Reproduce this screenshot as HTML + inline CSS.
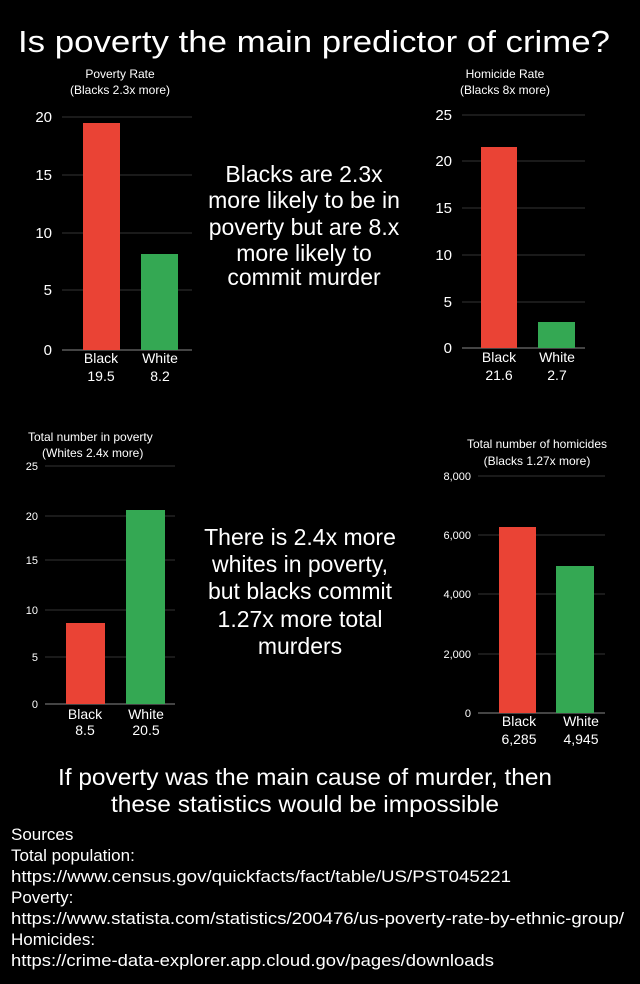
<!DOCTYPE html>
<html><head><meta charset="utf-8"><style>html,body{margin:0;padding:0;background:#000}svg{display:block}</style></head>
<body>
<svg width="640" height="984" viewBox="0 0 640 984" xmlns="http://www.w3.org/2000/svg" font-family="Liberation Sans, Arial, sans-serif" fill="#fff">
<rect width="640" height="984" fill="#000"/>
<text x="18" y="52" font-size="31" textLength="592" lengthAdjust="spacingAndGlyphs">Is poverty the main predictor of crime?</text>

<!-- Chart 1 -->
<g font-size="12" text-anchor="middle"><text x="120" y="78">Poverty Rate</text><text x="120" y="94">(Blacks 2.3x more)</text></g>
<g stroke="#333" stroke-width="1"><line x1="62" y1="117" x2="192" y2="117"/><line x1="62" y1="175" x2="192" y2="175"/><line x1="62" y1="233" x2="192" y2="233"/><line x1="62" y1="290" x2="192" y2="290"/></g>
<line x1="62" y1="350" x2="192" y2="350" stroke="#888"/>
<g font-size="15" text-anchor="end"><text x="52" y="122">20</text><text x="52" y="180">15</text><text x="52" y="238">10</text><text x="52" y="295">5</text><text x="52" y="355">0</text></g>
<rect x="83" y="123" width="37" height="227" fill="#ea4335"/>
<rect x="141" y="254" width="37" height="96" fill="#34a853"/>
<g font-size="14" text-anchor="middle"><text x="101" y="363">Black</text><text x="101" y="381">19.5</text><text x="160" y="363">White</text><text x="160" y="381">8.2</text></g>

<g font-size="23" text-anchor="middle"><text x="304" y="182">Blacks are 2.3x</text><text x="304" y="208">more likely to be in</text><text x="304" y="235">poverty but are 8.x</text><text x="304" y="261">more likely to</text><text x="304" y="285">commit murder</text></g>

<!-- Chart 2 -->
<g font-size="12" text-anchor="middle"><text x="505" y="78">Homicide Rate</text><text x="505" y="94">(Blacks 8x more)</text></g>
<g stroke="#333"><line x1="462" y1="115" x2="585" y2="115"/><line x1="462" y1="161" x2="585" y2="161"/><line x1="462" y1="208" x2="585" y2="208"/><line x1="462" y1="255" x2="585" y2="255"/><line x1="462" y1="302" x2="585" y2="302"/></g>
<line x1="462" y1="348" x2="585" y2="348" stroke="#888"/>
<g font-size="15" text-anchor="end"><text x="452" y="120">25</text><text x="452" y="166">20</text><text x="452" y="213">15</text><text x="452" y="260">10</text><text x="452" y="307">5</text><text x="452" y="353">0</text></g>
<rect x="481" y="147" width="36" height="201" fill="#ea4335"/>
<rect x="538" y="322" width="37" height="26" fill="#34a853"/>
<g font-size="14" text-anchor="middle"><text x="499" y="362">Black</text><text x="499" y="380">21.6</text><text x="557" y="362">White</text><text x="557" y="380">2.7</text></g>

<!-- Chart 3 -->
<g font-size="12"><text x="28" y="441">Total number in poverty</text><text x="42" y="457">(Whites 2.4x more)</text></g>
<g stroke="#333"><line x1="45" y1="466" x2="175" y2="466"/><line x1="45" y1="516" x2="175" y2="516"/><line x1="45" y1="560" x2="175" y2="560"/><line x1="45" y1="610" x2="175" y2="610"/><line x1="45" y1="657" x2="175" y2="657"/></g>
<line x1="45" y1="704" x2="175" y2="704" stroke="#888"/>
<g font-size="11" text-anchor="end"><text x="38" y="470">25</text><text x="38" y="520">20</text><text x="38" y="564">15</text><text x="38" y="614">10</text><text x="38" y="661">5</text><text x="38" y="708">0</text></g>
<rect x="66" y="623" width="39" height="81" fill="#ea4335"/>
<rect x="126" y="510" width="39" height="194" fill="#34a853"/>
<g font-size="14" text-anchor="middle"><text x="85" y="719">Black</text><text x="85" y="735">8.5</text><text x="146" y="719">White</text><text x="146" y="735">20.5</text></g>

<g font-size="23" text-anchor="middle"><text x="300" y="545">There is 2.4x more</text><text x="300" y="572">whites in poverty,</text><text x="300" y="599">but blacks commit</text><text x="300" y="627">1.27x more total</text><text x="300" y="654">murders</text></g>

<!-- Chart 4 -->
<g font-size="12" text-anchor="middle"><text x="537" y="448">Total number of homicides</text><text x="537" y="465">(Blacks 1.27x more)</text></g>
<g stroke="#333"><line x1="478" y1="476" x2="605" y2="476"/><line x1="478" y1="535" x2="605" y2="535"/><line x1="478" y1="594" x2="605" y2="594"/><line x1="478" y1="654" x2="605" y2="654"/></g>
<line x1="478" y1="713" x2="605" y2="713" stroke="#888"/>
<g font-size="11" text-anchor="end"><text x="471" y="480">8,000</text><text x="471" y="539">6,000</text><text x="471" y="598">4,000</text><text x="471" y="658">2,000</text><text x="471" y="717">0</text></g>
<rect x="499" y="527" width="37" height="186" fill="#ea4335"/>
<rect x="556" y="566" width="38" height="147" fill="#34a853"/>
<g font-size="14" text-anchor="middle"><text x="519" y="726">Black</text><text x="519" y="744">6,285</text><text x="581" y="726">White</text><text x="581" y="744">4,945</text></g>

<g font-size="23"><text x="58" y="785" textLength="494" lengthAdjust="spacingAndGlyphs">If poverty was the main cause of murder, then</text><text x="111" y="812" textLength="388" lengthAdjust="spacingAndGlyphs">these statistics would be impossible</text></g>

<g font-size="17"><text x="11" y="840">Sources</text><text x="11" y="861">Total population:</text>
<text x="11" y="882" textLength="500" lengthAdjust="spacingAndGlyphs">https://www.census.gov/quickfacts/fact/table/US/PST045221</text>
<text x="11" y="903">Poverty:</text>
<text x="11" y="924" textLength="613" lengthAdjust="spacingAndGlyphs">https://www.statista.com/statistics/200476/us-poverty-rate-by-ethnic-group/</text>
<text x="11" y="945">Homicides:</text>
<text x="11" y="966" textLength="483" lengthAdjust="spacingAndGlyphs">https://crime-data-explorer.app.cloud.gov/pages/downloads</text></g>
</svg>
</body></html>
